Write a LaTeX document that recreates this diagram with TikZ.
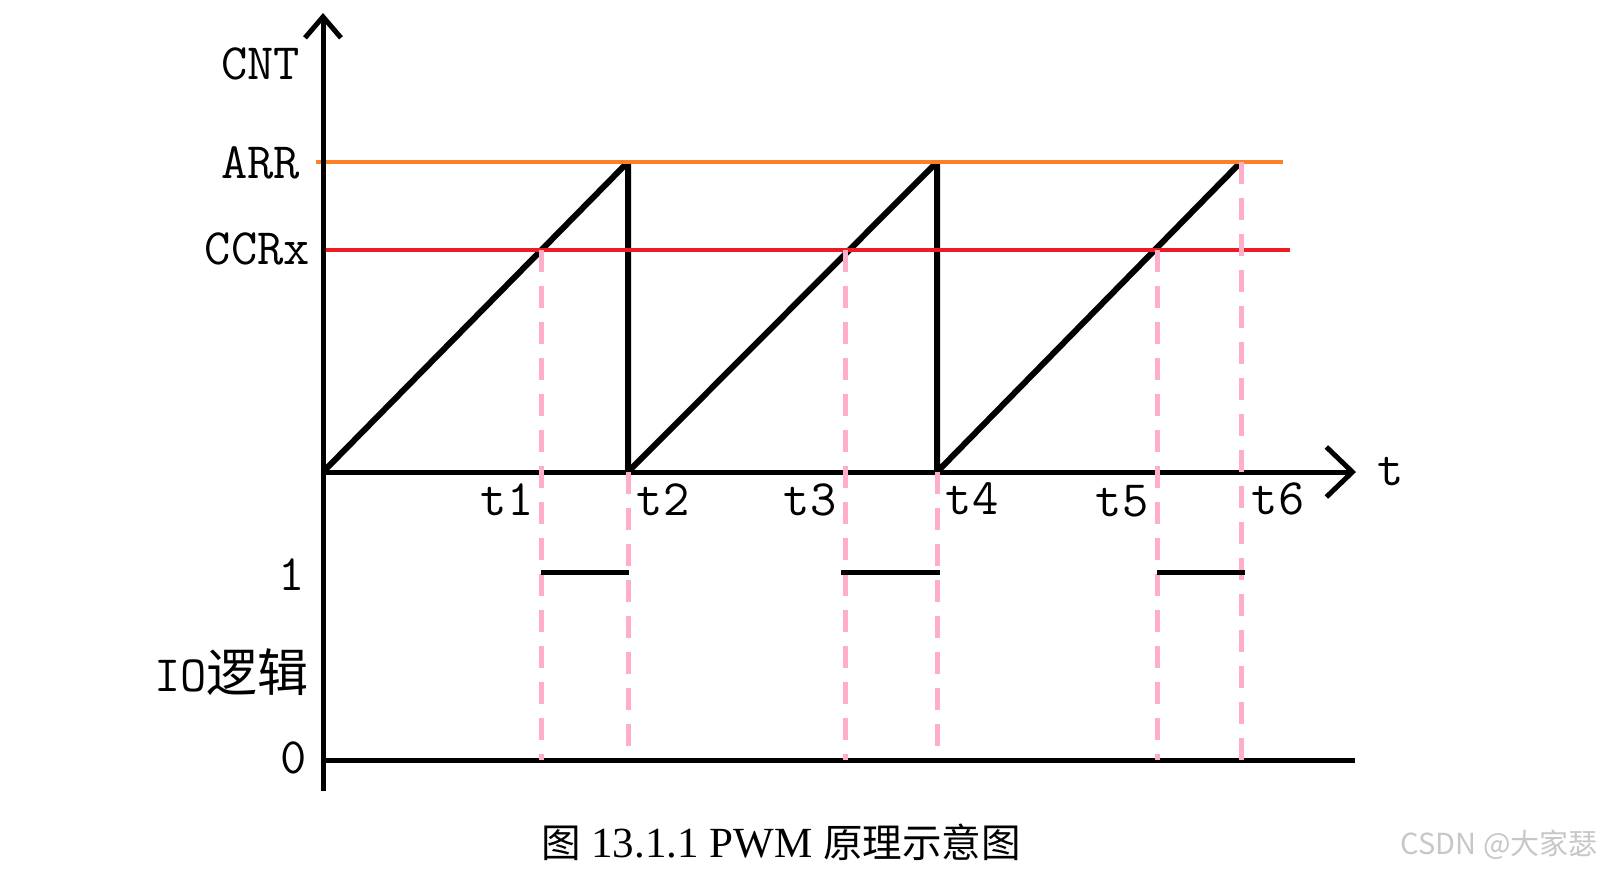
\documentclass[tikz,border=0pt]{standalone}
\usepackage{fontspec}
\setmainfont{Liberation Serif}
\newfontfamily\cjkfont{Noto Sans CJK SC}
\newfontfamily\cjkcap[Scale=0.92]{Noto Sans CJK SC}
\usetikzlibrary{arrows.meta}
\definecolor{arrorange}{HTML}{FF7F27}
\definecolor{ccrred}{HTML}{ED1C24}
\definecolor{guidepink}{HTML}{FFAEC9}
\begin{document}
\begin{tikzpicture}[x=1pt,y=-1pt,
  axisline/.style={line width=5pt,black},
  sawline/.style={line width=6pt,black,line join=bevel},
  levelline/.style={line width=5pt,black},
  arrline/.style={line width=4.5pt,arrorange},
  ccrline/.style={line width=4.5pt,ccrred},
  guide/.style={line width=5pt,guidepink,dash pattern=on 22pt off 14pt},
  lbl/.style={font=\ttfamily\fontsize{51}{51}\selectfont,inner sep=0pt,text=black}]
\useasboundingbox (0,0) rectangle (1610,873);
% coordinates
\coordinate (O) at (323,472);
\coordinate (ytop) at (323,13);
\coordinate (ybot) at (323,791);
\coordinate (xend) at (1356,472);
\coordinate (arrL) at (316,162);
\coordinate (arrR) at (1283,162);
\coordinate (ccrL) at (323,250);
\coordinate (ccrR) at (1290,250);
\coordinate (P1) at (628,162);
\coordinate (B1) at (628,472);
\coordinate (P2) at (937,162);
\coordinate (B2) at (937,472);
\coordinate (P3) at (1241,162);
\coordinate (c1) at (541,250);
\coordinate (c3) at (845,250);
\coordinate (c5) at (1157,250);
\coordinate (Z0) at (323,760);
\coordinate (Zend) at (1355,760);
\coordinate (f1) at (541,760);
\coordinate (f2) at (628,760);
\coordinate (f3) at (845,760);
\coordinate (f4) at (937,760);
\coordinate (f5) at (1157,760);
\coordinate (f6) at (1241,760);
\coordinate (h1a) at (541,572);
\coordinate (h1b) at (629,572);
\coordinate (h2a) at (841,572);
\coordinate (h2b) at (940,572);
\coordinate (h3a) at (1157,572);
\coordinate (h3b) at (1245,572);
% sawtooth
\draw[sawline] (O) -- (P1) -- (B1) -- (P2) -- (B2) -- (P3);
% reference levels
\draw[arrline] (arrL) -- (arrR);
\draw[ccrline] (ccrL) -- (ccrR);
% axes
\draw[axisline,-{Straight Barb[length=21pt,width=36pt]}] (ybot) -- (ytop);
\draw[axisline,-{Straight Barb[length=26pt,width=50pt]}] (O) -- (xend);
\draw[axisline] (Z0) -- (Zend);
% guides
\draw[guide] (c1) -- (f1);
\draw[guide] (B1) -- (f2);
\draw[guide] (c3) -- (f3);
\draw[guide] (B2) -- (f4);
\draw[guide] (c5) -- (f5);
\draw[guide] (P3) -- (f6);
% high levels
\draw[levelline] (h1a) -- (h1b);
\draw[levelline] (h2a) -- (h2b);
\draw[levelline] (h3a) -- (h3b);
% labels
\node[lbl,anchor=east] (cnt) at (300,64) {CNT};
\node[lbl,anchor=east] (arr) at (300,163) {ARR};
\node[lbl,anchor=east] (ccr) at (310,249) {CCRx};
\node[lbl,anchor=east] (one) at (305,575) {1};
\node[lbl,anchor=east] (zero) at (307,758) {0};
\node[lbl,anchor=east] (io) at (309,672) {IO{\cjkfont 逻辑}};
\node[lbl] (t1) at (507,500) {t1};
\node[lbl] (t2) at (663,500) {t2};
\node[lbl] (t3) at (810,500) {t3};
\node[lbl] (t4) at (972,499) {t4};
\node[lbl] (t5) at (1122,501) {t5};
\node[lbl] (t6) at (1278,499) {t6};
\node[lbl] (tt) at (1391,472) {t};
\node[font=\fontsize{43}{43}\selectfont,inner sep=0pt] (cap) at (781,842) {{\cjkcap 图} 13.1.1 PWM {\cjkcap 原理示意图}};
\node[font=\cjkfont\fontsize{29}{29}\selectfont,text=black!22,inner sep=0pt] (wm) at (1499,845) {CSDN @大家瑟};
\end{tikzpicture}
\end{document}
